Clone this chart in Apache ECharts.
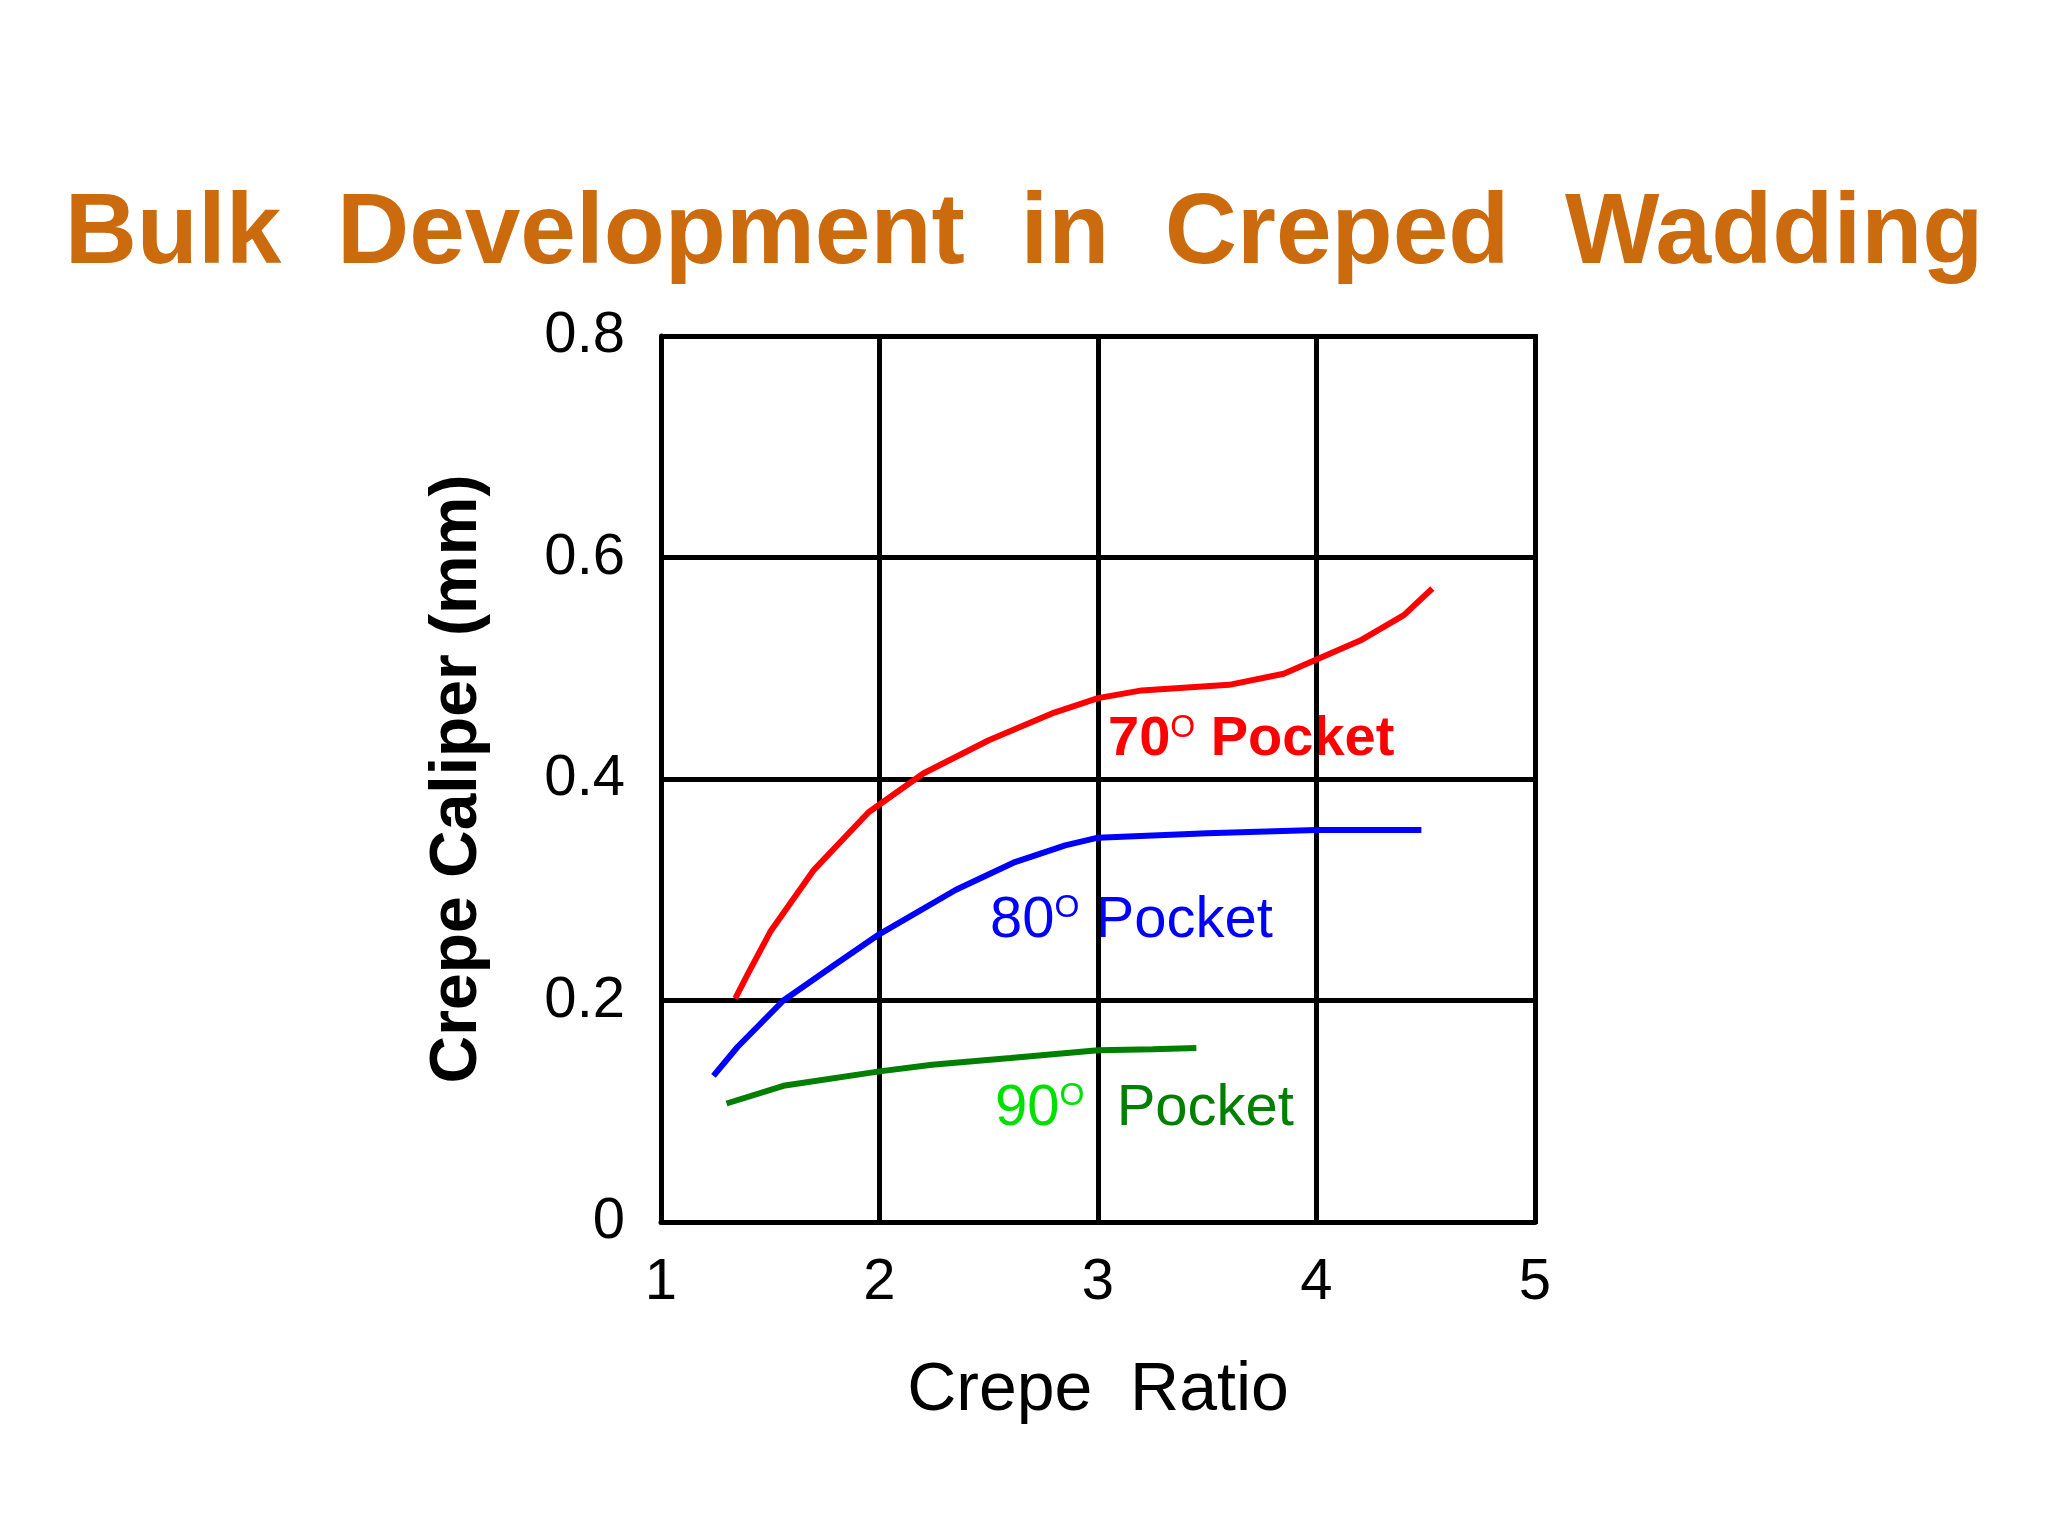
<!DOCTYPE html>
<html>
<head>
<meta charset="utf-8">
<script src="https://cdn.jsdelivr.net/npm/echarts@6/dist/echarts.min.js"></script>
<style>html,body{margin:0;background:#fff}#main{width:2048px;height:1536px}</style>
</head>
<body>
<div id="main"></div>
<script>
var pocket70 = [[1.34,0.202],[1.4,0.225],[1.5,0.262],[1.7,0.318],[1.95,0.37],[2.2,0.405],[2.5,0.435],[2.8,0.46],[3.0,0.473],[3.2,0.48],[3.6,0.485],[3.85,0.495],[4.0,0.508],[4.2,0.525],[4.4,0.548],[4.53,0.572]];
var pocket80 = [[1.24,0.132],[1.35,0.158],[1.56,0.2],[1.8,0.233],[2.0,0.26],[2.35,0.3],[2.62,0.325],[2.85,0.34],[3.0,0.347],[3.5,0.351],[4.0,0.354],[4.48,0.354]];
var pocket90 = [[1.3,0.107],[1.56,0.123],[2.0,0.136],[2.24,0.142],[2.6,0.148],[3.0,0.155],[3.25,0.156],[3.45,0.157]];
var yTicks = ['0', '0.2', '0.4', '0.6', '0.8'];

var chart = echarts.init(document.getElementById('main'));
var black = '#000';
chart.setOption({
    backgroundColor: '#fff',
    animation: false,
    title: {
        text: 'Bulk  Development  in  Creped  Wadding',
        left: 'center', top: 180,
        textStyle: { color: '#CC6A0E', fontSize: 100, fontWeight: 'bold', fontFamily: 'Liberation Sans' }
    },
    grid: { left: 661, width: 874, top: 336, height: 886 },
    xAxis: {
        type: 'value', min: 1, max: 5, interval: 1,
        name: 'Crepe  Ratio', nameLocation: 'middle', nameGap: 135,
        nameTextStyle: { color: black, fontSize: 68, fontFamily: 'Liberation Sans' },
        axisLine: { lineStyle: { color: black, width: 5 } },
        axisTick: { show: false },
        axisLabel: { color: black, fontSize: 58, margin: 32, fontFamily: 'Liberation Sans' },
        splitLine: { lineStyle: { color: black, width: 5 } }
    },
    yAxis: {
        type: 'value', min: 0, max: 0.8, interval: 0.2,
        name: 'Crepe Caliper (mm)', nameLocation: 'middle', nameGap: 170,
        nameTextStyle: { color: black, fontSize: 66, fontWeight: 'bold', fontFamily: 'Liberation Sans' },
        axisLine: { show: true, lineStyle: { color: black, width: 5 } },
        axisTick: { show: false },
        axisLabel: { color: black, fontSize: 58, margin: 36, fontFamily: 'Liberation Sans',
            formatter: function (v) { return yTicks[Math.round(v / 0.2)]; } },
        splitLine: { lineStyle: { color: black, width: 5 } }
    },
    series: [
        { type: 'line', data: pocket70, showSymbol: false, lineStyle: { color: '#FF0000', width: 6 } },
        { type: 'line', data: pocket80, showSymbol: false, lineStyle: { color: '#0000FF', width: 6 } },
        { type: 'line', data: pocket90, showSymbol: false, lineStyle: { color: '#007F00', width: 6 } }
    ],
    graphic: [
        { type: 'rect', shape: { x: 1533, y: 334, width: 5, height: 890 }, style: { fill: black } },
        { type: 'text', left: 1108, top: 712, style: {
            text: '{n|70}{s|O}{p| Pocket}',
            rich: { n: { fontSize: 56, fontWeight: 'bold', fill: '#FF0000' }, s: { fontSize: 32, fill: '#FF0000', verticalAlign: 'top' }, p: { fontSize: 56, fontWeight: 'bold', fill: '#FF0000' } } } },
        { type: 'text', left: 990, top: 892, style: {
            text: '{n|80}{s|O}{p| Pocket}',
            rich: { n: { fontSize: 58, fill: '#0000FF' }, s: { fontSize: 32, fill: '#0000FF', verticalAlign: 'top' }, p: { fontSize: 58, fill: '#0000FF' } } } },
        { type: 'text', left: 995, top: 1080, style: {
            text: '{n|90}{s|O}{p|  Pocket}',
            rich: { n: { fontSize: 58, fill: '#00E000' }, s: { fontSize: 32, fill: '#00E000', verticalAlign: 'top' }, p: { fontSize: 58, fill: '#007F00' } } } }
    ]
});
</script>
</body>
</html>
